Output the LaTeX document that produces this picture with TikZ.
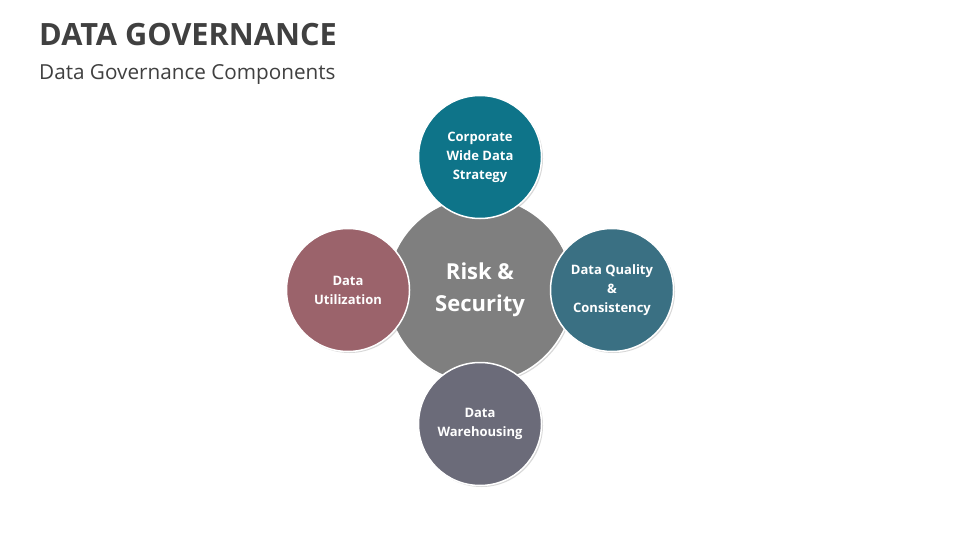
\documentclass[tikz,border=0pt]{standalone}
\usepackage{fontspec}
\setmainfont{Open Sans}
\usetikzlibrary{shadows}
\definecolor{tt}{HTML}{404040}
\definecolor{cmain}{HTML}{7F7F7F}
\definecolor{ctop}{HTML}{0E7489}
\definecolor{cright}{HTML}{3A7083}
\definecolor{cleft}{HTML}{9B636B}
\definecolor{cbot}{HTML}{6B6B79}
\begin{document}
\begin{tikzpicture}[x=1pt,y=-1pt,
  bub/.style={circle,draw=white,line width=1.5pt,text=white,align=center,font=\bfseries\fontsize{13}{19}\selectfont,minimum size=123pt,inner sep=0pt,drop shadow={opacity=0.3,shadow xshift=1.5pt,shadow yshift=-1.5pt}}]
\useasboundingbox[fill=white] (0,0) rectangle (960,540);
\node[anchor=west,text=tt,font=\bfseries\fontsize{30.7}{34}\selectfont,inner sep=0pt] (title) at (39,35) {DATA GOVERNANCE};
\node[anchor=west,text=tt,font=\fontsize{20.7}{24}\selectfont,inner sep=0pt] (sub) at (39,74) {Data Governance Components};
\node[bub,fill=cmain,minimum size=186pt,font=\bfseries\fontsize{22}{32}\selectfont] (c) at (480,290) {Risk \&\\Security};
\node[bub,fill=ctop] (t) at (480,157) {Corporate\\Wide Data\\Strategy};
\node[bub,fill=cright] (r) at (612,290) {Data Quality\\\&\\Consistency};
\node[bub,fill=cleft] (l) at (348,290) {Data\\Utilization};
\node[bub,fill=cbot] (b) at (480,424) {Data\\Warehousing};
\end{tikzpicture}
\end{document}
